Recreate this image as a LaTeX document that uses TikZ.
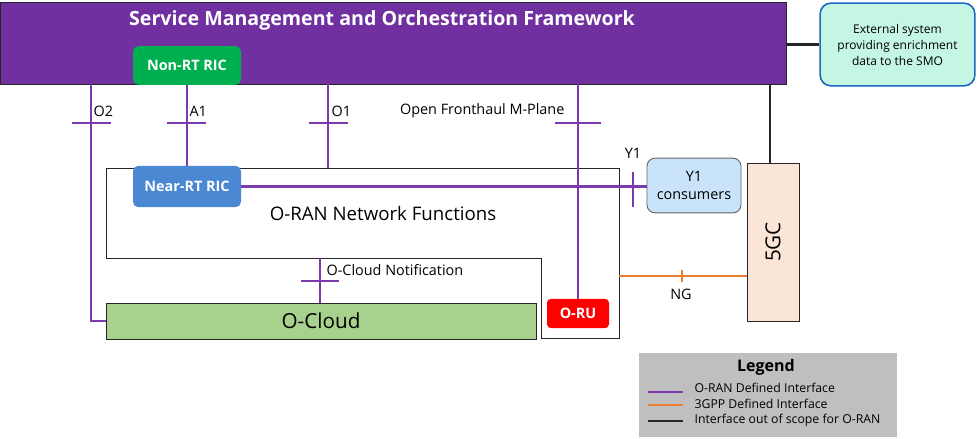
\documentclass[tikz,border=0pt]{standalone}
\usepackage{fontspec}
\setmainfont{Open Sans}
\usetikzlibrary{positioning}
\definecolor{smopurple}{HTML}{7030A0}
\definecolor{ifpurple}{HTML}{7B3AB0}
\definecolor{nongreen}{HTML}{00B050}
\definecolor{nearblue}{HTML}{4A88D4}
\definecolor{cloudgreen}{HTML}{A9D18E}
\definecolor{extfill}{HTML}{C5F5E3}
\definecolor{extborder}{HTML}{1B6AC0}
\definecolor{yfill}{HTML}{C9E4FA}
\definecolor{gcfill}{HTML}{FBE5D6}
\definecolor{ngorange}{HTML}{ED7D31}
\definecolor{legendgray}{HTML}{BFBFBF}

\begin{document}
\begin{tikzpicture}[x=0.75pt, y=-0.75pt,
  box/.style={draw=black!85, line width=0.7pt, inner sep=0pt},
  ric/.style={rounded corners=4pt, text=white, inner sep=0pt, font=\bfseries\fontsize{10.8}{12}\selectfont},
  oran/.style={draw=ifpurple, line width=2pt},
  gpp/.style={draw=ngorange, line width=2pt},
  outscope/.style={draw=black!85, line width=2pt},
  lbl/.style={font=\fontsize{10.8}{12}\selectfont, inner sep=1pt},
  leg/.style={anchor=west, inner sep=1pt, font=\fontsize{9.2}{11}\selectfont}]
  \useasboundingbox (0,0) rectangle (979,439);

  \node[box, fill=smopurple, minimum width=590pt, minimum height=61.5pt] (smo) at (393.5,43) {};
  \node[text=white, font=\bfseries\fontsize{14.7}{17}\selectfont] at (382,20) {Service Management and Orchestration Framework};
  \node[ric, fill=nongreen, minimum width=81pt, minimum height=29pt] (nonrt) at (187,65.5) {Non-RT RIC};
  \node[box, draw=extborder, line width=1.2pt, fill=extfill, rounded corners=8pt, minimum width=116pt, minimum height=62pt,
    align=center, font=\fontsize{9}{12}\selectfont] (ext) at (897.5,44.5) {External system\\providing enrichment\\data to the SMO};

  \draw[box] (106,168) -- (619,168) -- (619,338) -- (541,338) -- (541,258) -- (106,258) -- cycle;
  \node[font=\fontsize{14}{16}\selectfont] at (383,213) {O-RAN Network Functions};
  \node[ric, fill=nearblue, minimum width=81pt, minimum height=31pt] (nearrt) at (187,186.5) {Near-RT RIC};
  \node[box, fill=cloudgreen, minimum width=322.5pt, minimum height=27pt, font=\fontsize{15.5}{17}\selectfont] (ocloud) at (321,321) {O-Cloud};
  \node[ric, fill=red, rounded corners=3pt, minimum width=46.5pt, minimum height=22pt] (oru) at (578,313.5) {O-RU};
  \node[box, draw=black!60, fill=yfill, rounded corners=6pt, minimum width=70.5pt, minimum height=41pt,
    align=center, font=\fontsize{10.8}{13}\selectfont] (y1c) at (694,185.5) {Y1\\consumers};
  \node[box, fill=gcfill, minimum width=39pt, minimum height=118.5pt] (fivegc) at (773,242)
    {\rotatebox{90}{\fontsize{15.5}{17}\selectfont 5GC}};

  \coordinate (nftop) at (328,168);
  \coordinate (nfstep) at (320,258);
  \coordinate (nfright) at (619,276);

  % O-RAN interfaces
  \draw[oran] (smo.south -| 91,0) |- (ocloud.west);
  \draw[oran] (72,123) -- (111,123);
  \node[lbl, anchor=west] at (92,111) {O2};
  \draw[oran] (nonrt.south) -- (nearrt.north);
  \draw[oran] (167,123) -- (206,123);
  \node[lbl, anchor=west] at (188,111) {A1};
  \draw[oran] (smo.south -| nftop) -- (nftop);
  \draw[oran] (309,123) -- (348,123);
  \node[lbl, anchor=west] at (330,111) {O1};
  \draw[oran] (smo.south -| oru.north) -- (oru.north);
  \draw[oran] (555,123) -- (601,123);
  \node[lbl, anchor=east] at (566,111) {Open Fronthaul M-Plane};
  \draw[oran] (nearrt.east) -- (nearrt.east -| y1c.west);
  \draw[oran] (633,172) -- (633,207);
  \node[lbl] at (633,153) {Y1};
  \draw[oran] (nfstep) -- (ocloud.north -| nfstep);
  \draw[oran] (301,281) -- (339,281);
  \node[lbl, anchor=west] at (325,270) {O-Cloud Notification};

  % 3GPP and out of scope
  \draw[gpp] (nfright) -- (fivegc.west |- nfright);
  \draw[gpp, line width=1.4pt] (682,270) -- (682,282);
  \node[lbl] at (681,294) {NG};
  \draw[outscope] (smo.east |- ext.west) -- (ext.west);
  \draw[outscope] (smo.south -| 770,0) -- (fivegc.north -| 770,0);

  % legend
  \node[fill=legendgray, minimum width=193.5pt, minimum height=63pt] (legend) at (768,395) {};
  \node[font=\bfseries\fontsize{12}{14}\selectfont] at (766,367) {Legend};
  \draw[oran] (648,392) -- (683,392);
  \draw[gpp] (648,405) -- (683,405);
  \draw[outscope] (648,421) -- (683,421);
  \node[leg] at (693,388) {O-RAN Defined Interface};
  \node[leg] at (693,404) {3GPP Defined Interface};
  \node[leg] at (693,420) {Interface out of scope for O-RAN};
\end{tikzpicture}
\end{document}
